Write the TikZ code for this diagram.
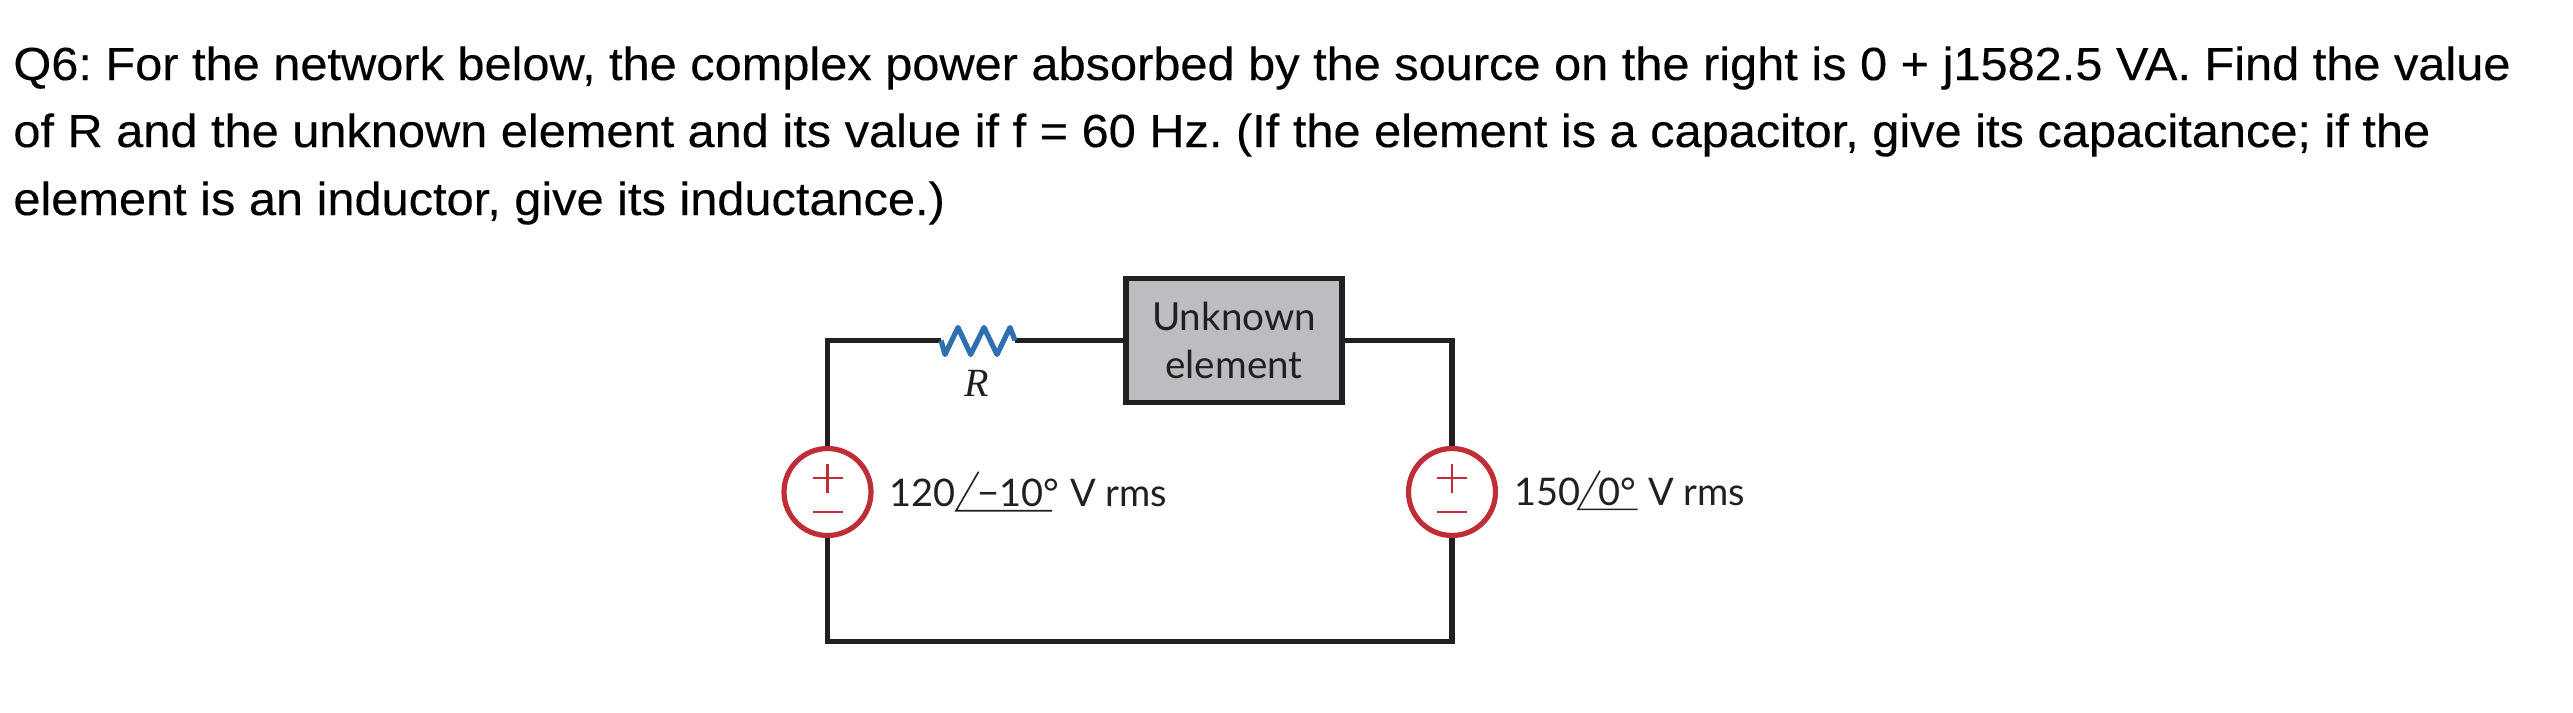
\documentclass[tikz,border=0pt]{standalone}
\usepackage{fontspec}
\setmainfont{Lato}
\newfontfamily\qfont[FakeStretch=1.05,FakeBold=0.25]{Liberation Sans}
\newfontfamily\symfont{Liberation Serif}
\frenchspacing
\definecolor{wirecol}{HTML}{231F20}
\definecolor{srccol}{HTML}{BE2E34}
\definecolor{rescol}{HTML}{2E6FB0}
\definecolor{boxcol}{HTML}{BCBDC0}
\tikzset{
  wire/.style={line width=2.6pt, color=wirecol},
  source/.style={circle, draw=srccol, line width=2.6pt, fill=white, minimum size=43.5pt, inner sep=0pt},
  sign/.style={line width=1.1pt, color=srccol},
  lbl/.style={anchor=base west, inner sep=0pt, text=wirecol, font=\fontsize{19}{23}\selectfont},
  angline/.style={line width=0.8pt, color=wirecol},
  qline/.style={anchor=base west, inner sep=0pt, font=\qfont\fontsize{23.2}{27}\selectfont}
}
\begin{document}
\begin{tikzpicture}[x=0.5pt, y=-0.5pt]
  \useasboundingbox (0, 0) rectangle (2573, 712);
  \node [qline] (q1) at (13, 80) {Q6: For the network below, the complex power absorbed by the source on the right is 0 + j1582.5 VA. Find the value};
  \node [qline] (q2) at (13, 147) {of R and the unknown element and its value if f = 60 Hz. (If the element is a capacitor, give its capacitance; if the};
  \node [qline] (q3) at (13, 215) {element is an inductor, give its inductance.)};
  \node [source] (srcL) at (827.5, 492) {};
  \node [source] (srcR) at (1452, 492) {};
  \node [draw=wirecol, line width=2.6pt, fill=boxcol, minimum width=108pt, minimum height=62.3pt, align=center, inner sep=0pt, text=wirecol, font=\fontsize{19.3}{24}\selectfont] (unk) at (1234, 340.4) {Unknown\\element};
  \coordinate (resin) at (941, 340.4);
  \coordinate (resout) at (1015, 340.4);
  \coordinate (botR) at (1452, 641.7);
  \draw [wire] (srcL.north) |- (resin);
  \draw [wire] (resout) -- (unk.west);
  \draw [wire] (unk.east) -| (srcR.north);
  \draw [wire] (srcL.south) |- (botR) -- (srcR.south);
  \draw [rescol, line width=2.6pt, line join=round] (resin) -- (945, 354.5) -- (958, 327.5) -- (970.7, 354.5) -- (984, 327.5) -- (997, 354.5) -- (1010, 327.5) -- (resout);
  \node [anchor=base, inner sep=0pt, text=wirecol, font=\symfont\itshape\fontsize{20}{24}\selectfont] (rlab) at (977, 396) {R};
  % signs in the sources
  \draw [sign] (812.5, 478) -- (842.5, 478) (827.5, 464) -- (827.5, 493) (812.5, 512) -- (842.5, 512);
  \draw [sign] (1437, 478) -- (1467, 478) (1452, 464) -- (1452, 493) (1437, 512) -- (1467, 512);
  % left source value
  \node [lbl] (magL) at (889, 506) {120};
  \node [lbl] (angL) at (977, 506) {−10°};
  \node [lbl] (unitL) at (1070, 506) {V rms};
  \draw [angline] (978.6, 471.7) -- (956, 510.7) -- (1052, 510.7);
  % right source value
  \node [lbl] (magR) at (1514, 505) {150};
  \node [lbl] (angR) at (1598, 505) {0°};
  \node [lbl] (unitR) at (1648, 505) {V rms};
  \draw [angline] (1600, 470.7) -- (1578, 509.3) -- (1637.5, 509.3);
\end{tikzpicture}
\end{document}
